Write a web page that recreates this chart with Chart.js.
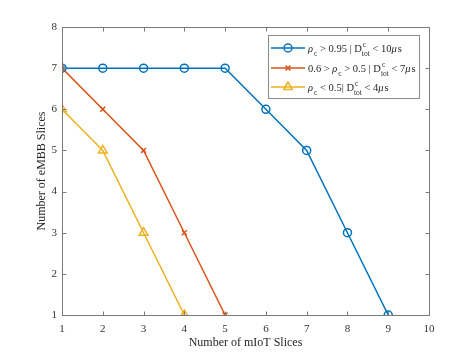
<!DOCTYPE html>
<html><head><meta charset="utf-8">
<script src="https://cdn.jsdelivr.net/npm/chart.js@4/dist/chart.umd.min.js"></script>
<style>html,body{margin:0;padding:0;background:#fff;}canvas{display:block;}</style>
</head><body>
<canvas id="c" width="474" height="355"></canvas>
<script>
const seriesHigh = [7, 7, 7, 7, 7, 6, 5, 3, 1];
const seriesHighX = [1, 2, 3, 4, 5, 6, 7, 8, 9];
const seriesMid = [7, 6, 5, 3, 1];
const seriesMidX = [1, 2, 3, 4, 5];
const seriesLow = [6, 5, 3, 1];
const seriesLowX = [1, 2, 3, 4];
const xTicks = [1, 2, 3, 4, 5, 6, 7, 8, 9, 10];
const yTicks = [1, 2, 3, 4, 5, 6, 7, 8];
const xTitle = 'Number of mIoT Slices';
const yTitle = 'Number of eMBB Slices';
const colors = ['#0072BD', '#D95319', '#EDB120'];
const pts = (xs, ys) => xs.map((x, i) => ({x: x, y: ys[i]}));

const FONT = '"Liberation Serif", "Times New Roman", serif';
const AX = '#7a7a7a';

const legendRows = [
  [['ρ','i'],['c','s'],[' > 0.95 | D','n'],[['c','tot'],'ss'],[' < 10','n'],['μ','i'],['s','n']],
  [['0.6 > ','n'],['ρ','i'],['c','s'],[' > 0.5 | D','n'],[['c','tot'],'ss'],[' < 7','n'],['μ','i'],['s','n']],
  [['ρ','i'],['c','s'],[' < 0.5| D','n'],[['c','tot'],'ss'],[' < 4','n'],['μ','i'],['s','n']]
];
const markers = ['circle', 'crossRot', 'triangle'];
const markerSizes = [4, 3.5, 5];

const decor = {
  id: 'decor',
  afterDraw(chart) {
    const ctx = chart.ctx, a = chart.chartArea;
    const xs = chart.scales.x, ys = chart.scales.y;
    ctx.save();
    ctx.strokeStyle = AX; ctx.lineWidth = 1;
    const L = Math.round(a.left) + 0.5, R = Math.round(a.right) + 0.5, T = Math.round(a.top) + 0.5, B = Math.round(a.bottom) + 0.5;
    ctx.beginPath();
    ctx.rect(L, T, R - L, B - T);
    const tl = 4;
    xTicks.forEach(v => {
      const px = Math.round(xs.getPixelForValue(v)) + 0.5;
      ctx.moveTo(px, B); ctx.lineTo(px, B - tl);
      ctx.moveTo(px, T); ctx.lineTo(px, T + tl);
    });
    yTicks.forEach(v => {
      const py = Math.round(ys.getPixelForValue(v)) + 0.5;
      ctx.moveTo(L, py); ctx.lineTo(L + tl, py);
      ctx.moveTo(R, py); ctx.lineTo(R - tl, py);
    });
    ctx.stroke();

    ctx.fillStyle = '#262626';
    ctx.font = '12px ' + FONT;
    ctx.textAlign = 'center'; ctx.textBaseline = 'middle';
    ctx.fillText(xTitle, (a.left + a.right) / 2, 343);
    ctx.save();
    ctx.translate(42, (a.top + a.bottom) / 2);
    ctx.rotate(-Math.PI / 2);
    ctx.fillText(yTitle, 0, 0);
    ctx.restore();

    const bx = 268.5, by = 35.5, bw = 151, bh = 63;
    ctx.fillStyle = '#fff';
    ctx.fillRect(bx, by, bw, bh);
    ctx.strokeStyle = '#8a8a8a';
    ctx.strokeRect(bx, by, bw, bh);
    const rowY = [48, 68, 87];
    legendRows.forEach((row, i) => {
      const y = rowY[i];
      ctx.strokeStyle = colors[i]; ctx.lineWidth = 1.5;
      ctx.beginPath(); ctx.moveTo(271, y); ctx.lineTo(305, y); ctx.stroke();
      ctx.fillStyle = 'rgba(0,0,0,0)';
      Chart.helpers.drawPoint(ctx, {pointStyle: markers[i], radius: markerSizes[i], borderWidth: 1.5, rotation: 0}, 288, y);
      let x = 308;
      ctx.fillStyle = '#262626';
      ctx.textAlign = 'left'; ctx.textBaseline = 'alphabetic';
      const base = y + 4;
      row.forEach(([t, k]) => {
        if (k === 'n') {
          ctx.font = '10.5px ' + FONT;
          ctx.fillText(t, x, base); x += ctx.measureText(t).width;
        } else if (k === 'i') {
          ctx.font = 'italic 10.5px ' + FONT;
          ctx.fillText(t, x, base); x += ctx.measureText(t).width + 1;
        } else if (k === 's') {
          ctx.font = '7.5px ' + FONT;
          ctx.fillText(t, x, base + 4); x += ctx.measureText(t).width;
        } else {
          ctx.font = '7.5px ' + FONT;
          ctx.fillText(t[0], x + 1, base - 5);
          ctx.fillText(t[1], x, base + 4);
          x += Math.max(ctx.measureText(t[0]).width + 1, ctx.measureText(t[1]).width);
        }
      });
    });
    ctx.restore();
  }
};

const mkDs = (label, data, i) => ({
  label, data,
  borderColor: colors[i], backgroundColor: 'rgba(0,0,0,0)',
  pointBorderColor: colors[i], pointBackgroundColor: 'rgba(0,0,0,0)',
  pointStyle: markers[i], pointRadius: markerSizes[i], pointBorderWidth: 1.5,
  borderWidth: 1.5, tension: 0, fill: false
});

new Chart(document.getElementById('c'), {
  type: 'line',
  data: {
    datasets: [
      mkDs('high', pts(seriesHighX, seriesHigh), 0),
      mkDs('mid', pts(seriesMidX, seriesMid), 1),
      mkDs('low', pts(seriesLowX, seriesLow), 2)
    ]
  },
  options: {
    responsive: false, animation: false, devicePixelRatio: 1,
    layout: {padding: {top: 27, right: 45, left: 0, bottom: 0}},
    plugins: {legend: {display: false}, tooltip: {enabled: false}},
    scales: {
      x: {
        type: 'linear', min: 1, max: 10,
        afterFit: s => { s.height = 40; },
        afterBuildTicks: s => { s.ticks = xTicks.map(v => ({value: v})); },
        grid: {display: false, drawTicks: false},
        border: {display: false},
        ticks: {padding: 8, color: '#333', font: {family: FONT, size: 11}}
      },
      y: {
        min: 1, max: 8,
        afterFit: s => { s.width = 62; },
        afterBuildTicks: s => { s.ticks = yTicks.map(v => ({value: v})); },
        grid: {display: false, drawTicks: false},
        border: {display: false},
        ticks: {padding: 5, color: '#333', font: {family: FONT, size: 11}}
      }
    }
  },
  plugins: [decor]
});
</script>
</body></html>
